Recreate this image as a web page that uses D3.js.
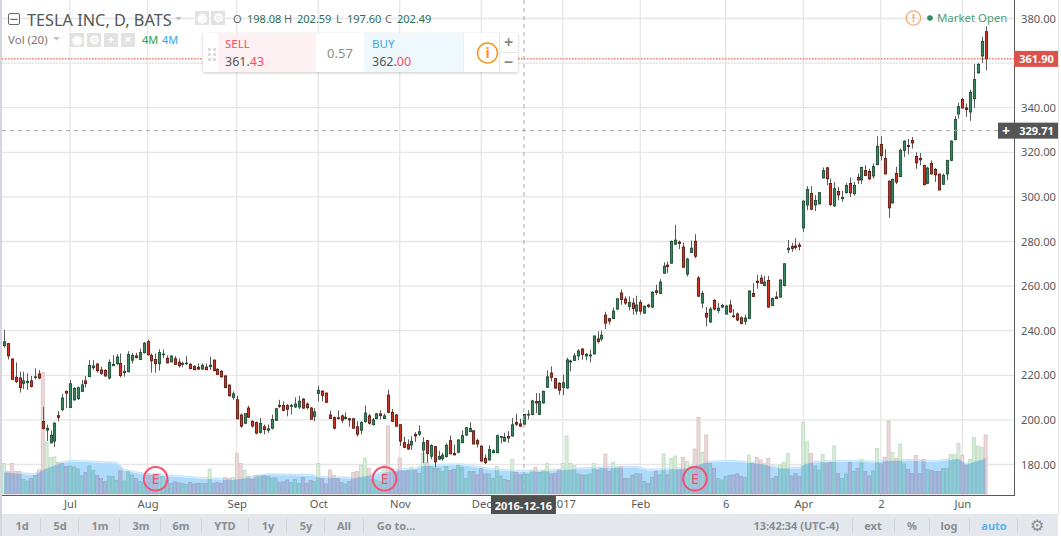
<!DOCTYPE html>
<html>
<head>
<meta charset="utf-8">
<title>TESLA INC, D, BATS</title>
<script src="https://d3js.org/d3.v7.min.js"></script>
<style>
html, body { margin: 0; padding: 0; background: #fff; overflow: hidden; }
svg { display: block; font-family: "Noto Sans", "Open Sans", sans-serif; }
.axis path, .axis line { display: none; }
.axis text { fill: #5a5a5a; font-size: 11.2px; font-family: "Noto Sans", "Open Sans", sans-serif; }
</style>
</head>
<body>
<svg id="chart" width="1061" height="536"></svg>
<script>
// daily candles, 2016-06 to 2017-06
var opens = [
	233.3,234.2,227.3,219.1,218.8,216.4,216.7,217.5,219.0,220.6,
	199.3,195.4,189.7,190.5,201.9,204.6,212.8,205.6,209.0,209.5,
	212.8,217.5,219.4,223.4,225.0,222.4,222.2,218.8,224.3,225.3,
	225.3,221.2,221.6,226.8,228.7,227.1,230.1,235.1,228.9,227.1,
	225.2,229.3,227.6,226.0,227.4,225.9,224.9,225.2,224.9,224.0,
	223.6,222.8,223.7,223.9,226.8,222.7,221.8,219.7,215.6,210.1,
	209.0,202.2,198.5,205.3,199.3,198.8,194.4,196.9,195.4,196.3,
	199.8,206.5,206.5,206.4,206.1,205.8,205.8,209.3,207.1,205.3,
	201.6,211.9,212.9,212.0,202.2,201.0,200.9,201.8,200.6,200.5,
	200.5,196.9,195.4,199.3,201.8,197.9,200.6,202.7,200.6,211.1,
	203.4,202.2,197.8,189.8,188.9,188.8,193.5,193.6,186.5,190.7,
	183.7,188.0,182.4,182.7,183.6,190.7,184.9,185.5,189.8,193.2,
	194.8,195.1,190.7,188.2,182.8,182.1,185.3,185.3,192.2,190.5,
	192.6,192.8,198.8,198.2,198.08,202.2,202.4,208.2,202.5,207.6,
	214.6,221.0,218.5,216.4,214.6,214.3,226.0,226.7,228.7,231.8,
	228.7,228.7,229.6,236.3,236.3,247.0,245.4,245.5,249.7,256.9,
	254.2,250.9,252.4,248.8,252.7,247.9,251.5,250.6,257.9,256.7,
	265.8,269.4,270.3,278.8,279.7,277.5,265.4,275.1,280.1,263.6,
	252.4,247.8,243.9,253.6,249.1,250.6,247.5,251.5,246.6,247.5,
	245.8,244.2,245.5,256.7,262.2,263.6,260.3,262.5,251.3,255.1,
	255.1,260.3,276.3,277.8,278.0,278.4,286.1,296.4,301.5,296.4,
	296.9,308.5,313.0,306.0,296.0,302.4,299.2,301.9,306.0,301.4,
	308.7,307.6,311.8,311.4,309.4,314.5,323.5,317.2,307.0,297.3,
	310.5,309.1,320.9,323.0,325.3,318.1,317.2,314.1,306.1,315.0,
	312.3,310.2,305.7,310.3,316.4,325.7,337.2,343.7,339.9,338.1,
	344.0,355.6,363.2,374.1
];
var highs = [
	240.4,234.5,227.6,225.8,221.6,221.6,220.9,219.7,223.1,222.4,
	205.8,197.9,195.3,199.0,203.9,211.7,213.2,217.9,214.7,215.0,
	217.9,219.7,226.8,226.8,225.6,223.9,222.7,227.1,229.0,229.5,
	229.8,224.6,230.8,230.1,230.1,232.0,235.0,236.0,229.8,229.8,
	231.7,231.6,228.9,229.0,228.6,227.6,226.1,228.7,225.6,224.6,
	225.3,225.3,225.3,228.3,227.1,223.1,222.4,220.2,215.9,212.8,
	210.8,202.8,203.1,206.4,199.9,199.3,200.9,197.9,197.9,202.4,
	205.3,209.0,208.3,207.1,207.1,210.1,210.8,209.8,207.9,205.8,
	205.3,215.3,213.2,212.3,204.2,201.6,204.2,202.4,203.4,200.9,
	200.9,199.4,199.4,206.4,202.7,200.9,203.1,204.3,202.8,213.5,
	204.9,202.7,198.1,192.5,191.3,192.7,194.5,197.5,192.2,191.0,
	189.0,188.3,186.1,185.3,189.5,193.0,189.0,191.3,195.3,196.7,
	199.0,195.4,191.6,188.6,184.6,188.6,186.8,193.5,192.7,194.2,
	195.0,200.9,202.8,200.5,202.59,204.3,209.0,212.0,212.0,213.1,
	222.2,224.0,218.8,216.9,220.3,227.9,227.0,230.0,231.8,232.1,
	230.0,231.5,237.9,239.7,240.1,248.5,245.7,250.4,254.6,258.4,
	255.4,255.4,254.6,255.7,253.9,251.2,252.1,257.6,260.6,263.1,
	270.7,271.0,280.4,287.5,280.4,279.5,272.7,280.4,283.3,264.6,
	257.9,250.6,250.6,254.2,252.4,252.1,251.6,253.9,249.7,248.2,
	246.4,247.2,258.1,261.3,265.1,265.1,264.6,264.6,254.8,257.6,
	263.1,270.3,280.7,279.3,281.5,279.5,298.4,304.8,304.8,300.8,
	302.2,313.2,313.5,308.2,306.7,304.5,302.7,306.3,308.7,306.7,
	310.5,313.5,314.2,312.7,315.0,327.2,327.2,321.4,307.5,308.2,
	313.5,321.7,325.4,326.0,326.9,320.0,319.7,314.4,313.5,316.4,
	313.0,310.5,310.5,316.7,325.4,336.2,342.2,344.6,341.9,348.1,
	359.5,360.1,371.8,376.5
];
var lows = [
	232.4,227.1,217.9,216.5,212.3,213.8,213.5,214.5,218.2,218.2,
	195.7,190.5,189.5,187.9,199.3,203.9,205.2,205.3,208.6,209.0,
	212.8,214.5,219.4,222.4,221.2,220.2,219.4,218.1,224.3,224.6,
	219.0,219.4,221.3,225.3,227.6,226.8,229.8,229.0,221.2,221.2,
	222.1,227.6,225.3,225.8,224.9,223.4,223.6,224.6,222.7,222.4,
	222.4,222.4,222.4,222.4,221.9,220.2,219.0,214.2,210.5,209.0,
	200.2,196.5,198.1,200.9,196.5,193.5,193.9,193.5,194.2,195.7,
	199.7,205.3,203.9,201.6,202.4,205.3,204.9,204.9,204.6,200.2,
	199.4,208.3,208.3,207.6,200.5,195.7,200.2,198.7,200.2,196.9,
	196.0,192.5,193.5,198.7,197.9,197.5,200.2,200.2,200.5,203.1,
	199.1,196.9,188.3,187.6,186.5,186.5,190.1,192.7,180.6,180.9,
	182.4,178.7,182.1,181.7,183.1,184.6,184.2,185.0,189.5,192.7,
	194.5,189.1,187.6,181.2,180.2,181.7,185.0,185.0,189.5,190.2,
	189.8,192.5,197.2,196.9,197.60,200.2,202.1,203.1,202.1,207.3,
	214.3,217.3,213.9,211.3,211.1,214.0,221.8,226.4,226.7,227.0,
	226.7,225.8,229.3,234.2,235.2,240.7,242.7,245.2,249.4,251.6,
	251.6,249.1,247.2,247.2,247.2,247.6,250.2,250.2,256.1,256.4,
	265.5,265.8,270.0,278.5,276.6,268.1,264.3,274.8,272.5,255.2,
	250.1,241.9,243.6,249.1,247.9,250.2,247.2,247.9,245.7,244.2,
	242.8,242.7,245.2,255.1,258.8,261.0,259.9,250.3,251.2,254.2,
	254.8,259.9,274.8,275.4,276.3,276.0,284.3,294.0,294.0,293.7,
	296.7,308.2,305.2,296.0,295.5,298.5,297.8,301.5,300.0,300.6,
	305.7,305.7,309.3,307.5,308.2,314.2,316.4,310.2,290.6,297.0,
	305.7,309.0,317.9,319.1,321.7,312.6,314.2,305.2,305.7,310.0,
	306.7,303.0,305.4,307.5,316.0,325.4,335.1,339.6,335.9,334.1,
	339.9,355.3,360.1,356.8
];
var closes = [
	235.0,228.7,218.2,217.2,214.5,217.5,217.3,215.0,219.3,218.8,
	196.2,196.2,193.1,198.5,201.2,209.8,212.0,216.2,214.1,214.4,
	215.7,216.3,224.4,224.2,222.1,220.9,219.7,225.8,224.9,228.2,
	219.9,221.8,229.3,228.9,227.9,230.2,234.4,229.2,226.5,225.2,
	230.2,229.5,225.6,228.6,224.9,224.3,225.3,225.5,223.0,222.5,
	222.8,224.5,222.5,224.5,222.1,220.4,219.3,214.5,210.8,211.7,
	200.5,197.2,202.8,201.2,197.3,194.1,198.4,195.7,196.0,200.2,
	205.0,206.1,204.3,204.8,206.4,207.1,208.4,205.3,205.5,200.3,
	203.6,213.3,211.0,207.9,200.7,196.3,200.6,199.9,201.2,200.0,
	196.3,193.6,198.8,203.1,198.5,200.0,202.7,201.9,201.8,203.4,
	199.4,197.2,190.5,187.7,187.0,190.4,192.8,194.7,189.8,185.0,
	188.5,181.2,183.6,184.2,188.6,184.8,184.3,191.0,192.9,196.5,
	196.2,189.2,189.2,181.6,180.9,186.7,186.2,192.9,192.5,192.2,
	191.9,197.8,198.1,197.2,202.49,202.5,208.5,207.6,208.3,212.8,
	219.3,219.1,214.3,213.3,216.6,226.9,226.4,228.7,230.9,229.4,
	229.4,229.1,237.6,235.2,238.0,243.4,244.3,248.8,254.3,254.0,
	252.4,252.7,250.0,251.5,248.8,251.0,250.9,257.3,257.2,261.8,
	268.9,268.8,280.0,280.6,279.1,268.5,272.1,277.0,273.4,255.5,
	256.7,246.1,249.7,249.7,250.1,251.3,251.0,248.4,246.4,244.8,
	243.3,245.7,257.8,255.4,261.6,261.3,261.8,250.6,254.5,254.5,
	262.7,270.0,277.0,276.9,277.3,277.8,298.1,303.3,294.5,298.4,
	301.9,311.8,308.2,296.6,303.7,300.9,299.7,305.1,301.8,305.1,
	307.6,313.2,309.6,308.1,313.6,322.7,318.5,310.3,295.1,307.8,
	306.7,320.8,325.0,322.6,324.2,315.3,316.6,305.5,312.9,310.3,
	309.9,303.1,309.6,316.3,325.0,334.7,340.5,339.9,339.2,346.8,
	352.6,359.4,369.7,361.9
];
// volume in millions
var volumes = [
	6.1,4.4,6.1,4.5,4.5,2.9,2.6,3.1,3.7,4.8,
	24.3,10.3,7.3,7.4,6.3,6.1,5.5,5.6,5.4,5.0,
	3.6,4.3,5.6,4.7,3.7,3.1,2.5,3.6,3.5,2.7,
	4.6,2.6,4.5,3.8,3.1,2.5,2.3,4.1,3.8,3.8,
	4.1,3.5,2.8,2.1,2.4,2.2,2.1,1.9,2.3,2.0,
	2.1,2.1,2.1,5.0,2.1,2.3,2.1,3.3,3.1,3.3,
	8.1,6.1,4.7,3.5,2.9,3.7,3.7,3.7,3.5,3.2,
	3.2,2.3,2.4,2.8,2.3,2.9,2.1,3.3,2.1,2.7,
	2.5,6.1,3.1,2.0,4.8,3.7,3.1,2.3,2.0,2.5,
	4.3,4.5,5.8,7.2,5.1,2.9,2.8,2.5,5.8,13.6,
	5.1,4.4,7.2,4.5,4.7,5.3,4.8,4.1,8.1,6.3,
	5.5,5.1,5.1,4.5,5.5,4.7,4.9,5.8,5.3,3.1,
	4.5,4.5,3.8,5.1,4.0,4.0,3.1,5.5,3.6,2.9,
	2.7,6.9,4.3,3.8,4.0,3.9,4.8,5.3,4.3,4.7,
	6.1,4.0,4.1,4.8,6.1,11.6,6.1,5.7,4.0,3.8,
	3.8,4.0,6.1,4.8,5.1,8.0,4.5,6.3,5.3,5.5,
	3.1,3.1,3.8,4.1,4.0,2.5,2.1,3.3,4.5,3.8,
	8.0,3.8,7.1,7.6,4.8,7.3,6.5,5.5,9.0,15.3,
	8.3,11.8,6.1,5.1,3.1,2.8,3.5,3.7,3.8,4.0,
	3.5,3.3,7.8,6.1,7.3,6.8,6.0,7.1,3.1,3.5,
	5.8,6.3,8.1,3.6,4.1,3.5,14.4,10.4,8.1,5.6,
	4.8,7.9,6.1,6.3,9.6,4.1,3.1,4.0,6.3,4.5,
	5.1,6.9,4.5,3.6,4.6,9.1,6.0,7.3,14.6,8.3,
	7.1,10.0,6.0,4.9,4.1,7.7,4.1,6.9,4.9,4.7,
	4.5,4.5,5.1,5.1,7.9,7.9,10.1,7.8,5.8,6.9,
	11.3,9.6,9.3,11.8
];
// 20 day volume average, read at its corners
var maDays = [0,8,10,14,17,24,29,31,36,42,50,59,68,79,81,90,95,102,106,108,118,125,132,138,140,151,163,166,176,181,188,195,200,205,206,208,218,224,228,233,240,246,248,253];
var maValues = [4.3,3.8,4.8,6.0,6.5,6.3,6.1,4.7,3.9,3.6,3.1,2.8,3.8,3.7,3.3,3.1,3.8,4.8,4.9,5.6,5.8,4.9,4.5,4.5,4.6,5.1,5.3,4.7,5.1,6.3,6.5,6.0,5.1,5.1,5.8,6.3,6.5,6.3,6.6,6.7,6.4,7.0,5.9,7.1];

var priceTicks = [180,200,220,240,260,280,300,320,340,360,380];
var priceLabels = [180,200,220,240,260,280,300,320,340,380]; // 360 sits under the last price tag
var timeTickDays = [17,37,60,81,102,123,144,164,186,206,226,247];
var timeTickLabels = ["Jul","Aug","Sep","Oct","Nov","Dec","2017","Feb","6","Apr","2","Jun"];
var earningsDays = [39,98,178];
var rangeButtons = ["1d","5d","1m","3m","6m","YTD","1y","5y","All","Go to..."];
var lastPrice = 361.90, crossPrice = 329.71, crossDay = 134, crossDate = "2016-12-16";

var WIDTH = 1061, HEIGHT = 536, PLOT_LEFT = 2, PLOT_RIGHT = 1014, PLOT_BOTTOM = 495, AXIS_RIGHT = 1058;

var xScale = d3.scaleLinear().domain([0, opens.length - 1]).range([4, 985.6]);
var yScale = d3.scaleLinear().domain([180, 380]).range([464.5, 18.5]);
var volScale = d3.scaleLinear().domain([0, 10]).range([494, 444]);

var svg = d3.select("#chart");

function label(x, y, text, color, size, anchor, weight) {
	return svg.append("text").attr("x", x).attr("y", y)
		.attr("fill", color).attr("font-size", size)
		.attr("text-anchor", anchor || "start")
		.attr("font-weight", weight || "normal")
		.text(text);
}
function box(x, y, w, h, fill) {
	return svg.append("rect").attr("x", x).attr("y", y).attr("width", w).attr("height", h).attr("fill", fill);
}
function isUp(i) {
	return closes[i] >= opens[i];
}

// grid
svg.append("g").selectAll("line").data(priceTicks).enter().append("line")
	.attr("x1", PLOT_LEFT).attr("x2", PLOT_RIGHT)
	.attr("y1", function(d) { return yScale(d); }).attr("y2", function(d) { return yScale(d); })
	.attr("stroke", "#e6e6e6").attr("stroke-width", 1.3);
svg.append("g").selectAll("line").data(timeTickDays).enter().append("line")
	.attr("x1", function(d) { return xScale(d); }).attr("x2", function(d) { return xScale(d); })
	.attr("y1", 0).attr("y2", PLOT_BOTTOM)
	.attr("stroke", "#e6e6e6").attr("stroke-width", 1.3);

// volume average area
var maPoints = maDays.map(function(d, i) { return { day: d, value: maValues[i] }; });
var maArea = d3.area()
	.x(function(d) { return xScale(d.day); })
	.y0(volScale(0))
	.y1(function(d) { return volScale(d.value); });
var maLine = d3.line()
	.x(function(d) { return xScale(d.day); })
	.y(function(d) { return volScale(d.value); });
svg.append("path").attr("d", maArea(maPoints)).attr("fill", "#aedafc");
svg.append("path").attr("d", maLine(maPoints)).attr("fill", "none").attr("stroke", "#c8e6fc").attr("stroke-width", 1.5)
	.attr("transform", "translate(0,-1)");

// volume bars: pale on white, then again in bluer tones clipped to the area
function drawBars(parent, fillUp, fillDown, strokeUp, strokeDown) {
	parent.selectAll("rect").data(volumes).enter().append("rect")
		.attr("x", function(d, i) { return xScale(i) - 1.5; })
		.attr("width", 3)
		.attr("y", function(d) { return volScale(d); })
		.attr("height", function(d) { return volScale(0) - volScale(d); })
		.attr("fill", function(d, i) { return isUp(i) ? fillUp : fillDown; })
		.attr("stroke", function(d, i) { return isUp(i) ? strokeUp : strokeDown; })
		.attr("stroke-width", 0.8);
}
svg.append("clipPath").attr("id", "maClip").append("path").attr("d", maArea(maPoints));
drawBars(svg.append("g"), "#d9ecd9", "#ead9d9", "#bcdcbf", "#d9bfbf");
drawBars(svg.append("g").attr("clip-path", "url(#maClip)"), "#8ecbda", "#a4b9de", "#7cbccb", "#94a9cf");

// candles
var candles = svg.append("g").selectAll("g").data(opens).enter().append("g");
candles.append("line")
	.attr("x1", function(d, i) { return Math.round(xScale(i)) + 0.5; })
	.attr("x2", function(d, i) { return Math.round(xScale(i)) + 0.5; })
	.attr("y1", function(d, i) { return yScale(highs[i]); })
	.attr("y2", function(d, i) { return yScale(lows[i]); })
	.attr("stroke", "#5c5c5c").attr("stroke-width", 1);
candles.append("rect")
	.attr("x", function(d, i) { return Math.round(xScale(i)) - 0.6; })
	.attr("width", 2.2)
	.attr("y", function(d, i) { return yScale(Math.max(d, closes[i])); })
	.attr("height", function(d, i) { return Math.max(0.6, Math.abs(yScale(d) - yScale(closes[i]))); })
	.attr("fill", function(d, i) { return isUp(i) ? "#39855f" : "#cc3322"; })
	.attr("stroke", function(d, i) { return isUp(i) ? "#1d4d35" : "#5e1a12"; })
	.attr("stroke-width", 0.9);

// earnings markers
var marks = svg.append("g").selectAll("g").data(earningsDays).enter().append("g")
	.attr("transform", function(d) { return "translate(" + (xScale(d) + 0.3) + ",478.8)"; });
marks.append("circle").attr("r", 11.8).attr("fill", "rgba(255,255,255,0.1)").attr("stroke", "#f4516f").attr("stroke-width", 2);
marks.append("text").attr("y", 5).attr("text-anchor", "middle").attr("font-size", 14).attr("fill", "#f4516f").text("E");

// last price and crosshair lines
svg.append("line").attr("x1", PLOT_LEFT).attr("x2", PLOT_RIGHT)
	.attr("y1", yScale(lastPrice)).attr("y2", yScale(lastPrice))
	.attr("stroke", "#e0392b").attr("stroke-width", 1).attr("stroke-dasharray", "1.5,1.5");
svg.append("line").attr("x1", PLOT_LEFT).attr("x2", PLOT_RIGHT)
	.attr("y1", yScale(crossPrice)).attr("y2", yScale(crossPrice))
	.attr("stroke", "#a8a8a8").attr("stroke-width", 1).attr("stroke-dasharray", "4,4");
svg.append("line").attr("x1", xScale(crossDay)).attr("x2", xScale(crossDay))
	.attr("y1", 0).attr("y2", PLOT_BOTTOM)
	.attr("stroke", "#a8a8a8").attr("stroke-width", 1).attr("stroke-dasharray", "4,4");

// frame
box(0, 0, 2, HEIGHT, "#d3d6de");
box(AXIS_RIGHT, 0, 1, 514, "#e3e3e3");
svg.append("line").attr("x1", PLOT_RIGHT + 0.5).attr("x2", PLOT_RIGHT + 0.5).attr("y1", 0).attr("y2", PLOT_BOTTOM + 0.5).attr("stroke", "#5a5a5a");
svg.append("line").attr("x1", PLOT_LEFT).attr("x2", PLOT_RIGHT + 1).attr("y1", PLOT_BOTTOM + 0.5).attr("y2", PLOT_BOTTOM + 0.5).attr("stroke", "#5a5a5a");

// axes
var yAxis = d3.axisRight(yScale).tickValues(priceLabels).tickSize(0).tickPadding(7)
	.tickFormat(function(d) { return d3.format(".2f")(d); });
svg.append("g").attr("class", "axis").attr("transform", "translate(" + PLOT_RIGHT + ",0)").call(yAxis);
var xAxis = d3.axisBottom(xScale).tickValues(timeTickDays).tickSize(0).tickPadding(5)
	.tickFormat(function(d, i) { return timeTickLabels[i]; });
svg.append("g").attr("class", "axis").attr("transform", "translate(0," + PLOT_BOTTOM + ")").call(xAxis);

// price tags
box(PLOT_RIGHT, yScale(lastPrice) - 8, AXIS_RIGHT - PLOT_RIGHT, 16, "#d9534a");
label(1036.5, yScale(lastPrice) + 4, d3.format(".2f")(lastPrice), "#fff", 11, "middle", "bold");
box(998, yScale(crossPrice) - 8, AXIS_RIGHT - 998, 16, "#555");
label(1006, yScale(crossPrice) + 5, "+", "#fff", 14, "middle", "bold");
label(1036.5, yScale(crossPrice) + 4, d3.format(".2f")(crossPrice), "#fff", 11, "middle", "bold");
box(xScale(crossDay) - 33, PLOT_BOTTOM + 1, 65, 18, "#4f4f4f");
label(xScale(crossDay) - 0.5, 510, crossDate, "#fff", 11, "middle", "bold");

// range toolbar
box(2, 514, AXIS_RIGHT - 2, 22, "#e4e7ec");
var buttonX = [22,60,100,141,181,225,268,306,344,396];
rangeButtons.forEach(function(b, i) { label(buttonX[i], 530, b, "#8a8d93", 11, "middle", "bold"); });
[40,78,119,160,201,248,286,324,363,852,894,929,969,1017].forEach(function(x) { box(x, 518, 1, 14, "#cfd2d8"); });
label(839, 530, "13:42:34 (UTC-4)", "#8a8d93", 11, "end", "bold");
label(873, 530, "ext", "#8a8d93", 11, "middle", "bold");
label(912, 530, "%", "#8a8d93", 11, "middle", "bold");
label(949, 530, "log", "#8a8d93", 11, "middle", "bold");
label(994, 530, "auto", "#5cb3ee", 11, "middle", "bold");
label(1037, 531, "\u2699", "#8a8d93", 16, "middle");

// legend
svg.append("rect").attr("x", 8.5).attr("y", 13.5).attr("width", 11).attr("height", 11).attr("rx", 1.5).attr("fill", "none").attr("stroke", "#666");
svg.append("line").attr("x1", 10.5).attr("x2", 17.5).attr("y1", 19.5).attr("y2", 19.5).attr("stroke", "#666");
label(27, 26, "TESLA INC, D, BATS", "#555", 16.3);
function caret(x, y) {
	svg.append("path").attr("d", "M" + x + "," + y + "h7l-3.5,3.5z").attr("fill", "#c4c4c4");
}
function iconBox(x, y, glyph) {
	box(x, y, 14, 14, "#e2e2e2");
	label(x + 7, y + 11, glyph, "#fff", 12, "middle", "bold");
}
caret(175, 17);
iconBox(195, 11, "\u25c9");
iconBox(211, 11, "\u2699");
var headerLetters = [["O",233,"198.08",247],["H",284,"202.59",297],["L",336,"197.60",347],["C",385,"202.49",397]];
headerLetters.forEach(function(h) {
	label(h[1], 23, h[0], "#666", 11);
	label(h[3], 23, h[2], "#2f6f4f", 11);
});
label(8, 44, "Vol (20)", "#777", 11.5);
caret(53, 37);
iconBox(70, 33, "\u25c9");
iconBox(87, 33, "\u2699");
iconBox(104, 33, "+");
iconBox(121, 33, "\u00d7");
label(142, 44, "4M", "#2e9e44", 11);
label(162, 44, "4M", "#3ba4f0", 11);

// order widget
svg.append("defs").append("filter").attr("id", "soft").html('<feDropShadow dx="0" dy="1" stdDeviation="1.5" flood-color="#000" flood-opacity="0.22"/>');
box(203, 33, 315, 39, "#fff").attr("filter", "url(#soft)");
box(218, 33, 98, 39, "#fdf1f3");
box(364, 33, 99, 39, "#eff8fc");
box(499, 33, 1, 39, "#e6e6e6");
box(499, 52, 19, 1, "#e6e6e6");
box(463, 33, 1, 39, "#f0f0f0");
[[208,48],[213,48],[208,53],[213,53],[208,58],[213,58]].forEach(function(p) { box(p[0], p[1], 3, 3, "#dcdcdc"); });
label(225, 48, "SELL", "#ff4a68", 11.5);
var sell = label(225, 66, "361.", "#555", 12.5);
sell.append("tspan").attr("fill", "#ff4a68").text("43");
label(340, 58, "0.57", "#8c8c8c", 13, "middle");
label(372, 48, "BUY", "#3aa8ee", 11.5);
var buy = label(372, 66, "362.", "#555", 12.5);
buy.append("tspan").attr("fill", "#ff4a68").text("00");
svg.append("circle").attr("cx", 487.5).attr("cy", 53).attr("r", 10).attr("fill", "none").attr("stroke", "#f7941e").attr("stroke-width", 1.5);
label(487.5, 58, "i", "#f7941e", 14, "middle", "bold");
label(508.5, 48, "+", "#888", 16, "middle", "bold");
label(508.5, 68, "\u2212", "#888", 16, "middle", "bold");

// market state
svg.append("circle").attr("cx", 913.5).attr("cy", 18).attr("r", 7.2).attr("fill", "none").attr("stroke", "#f9a66c").attr("stroke-width", 1.3);
label(913.5, 22, "!", "#f9a66c", 11, "middle", "bold");
svg.append("circle").attr("cx", 930).attr("cy", 18).attr("r", 2.8).attr("fill", "#2e8b62");
label(937, 22, "Market Open", "#4c9f7c", 11.4);
</script>
</body>
</html>
